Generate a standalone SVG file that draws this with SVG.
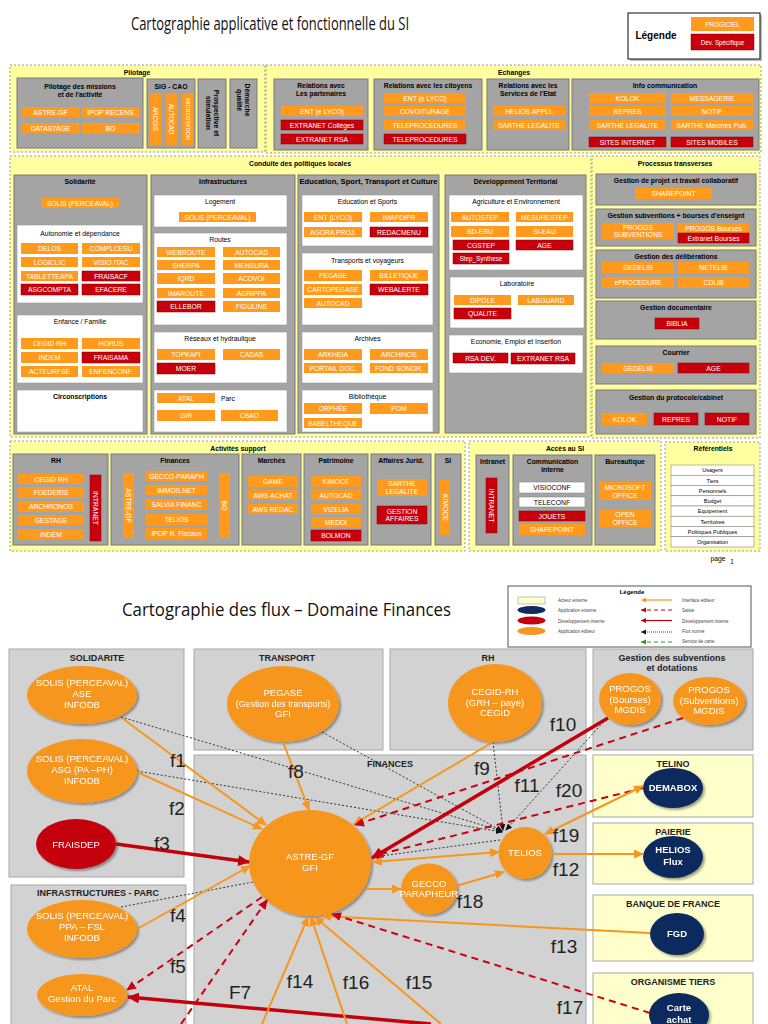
<svg xmlns="http://www.w3.org/2000/svg" width="768" height="1024" viewBox="0 0 768 1024">
<style>
text{font-family:"Liberation Sans",Arial,sans-serif;text-anchor:middle}
.b{font-weight:bold}
.wt{fill:#fff}
.s5{font-size:5.5px}.s6{font-size:6.3px}.s7{font-size:6.8px}.s9{font-size:9px}
.yz{fill:#ffffa0;stroke:#9a9a9a;stroke-width:1;stroke-dasharray:2,2}
.gy{fill:#a4a4a4;stroke:#7a7a7a;stroke-width:1}
.wh{fill:#fff;stroke:#9a9a9a;stroke-width:0.6}
.o{fill:#ff9a1c}
.r{fill:#c8000c;stroke:#8a0000;stroke-width:0.5}
.fg{fill:#d2d2d2;stroke:#a8a8a8;stroke-width:1}
.fy{fill:#ffffcc;stroke:#a8a8a8;stroke-width:1}
.eo{fill:#f7961e}
.er{fill:#c4000c}
.en{fill:#0f2a5e}
.et{fill:#fff;font-family:"Liberation Sans Narrow","Liberation Sans",Arial,sans-serif;font-size:9.5px}
.lo{stroke:#f7961e;stroke-width:2;fill:none}
.lr{stroke:#c4000c;stroke-width:3.5;fill:none}
.ld{stroke:#cc0010;stroke-width:2;fill:none;stroke-dasharray:7,5}
.lk{stroke:#333;stroke-width:1;fill:none;stroke-dasharray:2,2}
.fl{font-size:19px;fill:#222}
.ft{font-size:9px;font-weight:bold;fill:#222}
</style>
<defs>
<marker id="ao" markerUnits="userSpaceOnUse" markerWidth="10" markerHeight="9" refX="9" refY="4.5" orient="auto-start-reverse"><path d="M0,0 L10,4.5 L0,9 z" fill="#f7961e"/></marker>
<marker id="ar" markerUnits="userSpaceOnUse" markerWidth="12" markerHeight="11" refX="11" refY="5.5" orient="auto-start-reverse"><path d="M0,0 L12,5.5 L0,11 z" fill="#c4000c"/></marker>
<marker id="ad" markerUnits="userSpaceOnUse" markerWidth="10" markerHeight="9" refX="9" refY="4.5" orient="auto-start-reverse"><path d="M0,0 L10,4.5 L0,9 z" fill="#cc0010"/></marker>
<marker id="ak" markerUnits="userSpaceOnUse" markerWidth="7" markerHeight="6" refX="6" refY="3" orient="auto-start-reverse"><path d="M0,0 L7,3 L0,6 z" fill="#111"/></marker>
<filter id="sh" x="-20%" y="-20%" width="150%" height="150%"><feDropShadow dx="2" dy="2" stdDeviation="1.2" flood-color="#000" flood-opacity="0.35"/></filter>
</defs>
<rect width="768" height="1024" fill="#fff"/>

<!-- ===== PAGE 1 ===== -->
<text x="270" y="30" font-size="19" textLength="278" lengthAdjust="spacingAndGlyphs" style="font-family:'Open Sans','Liberation Sans',sans-serif" fill="#111">Cartographie applicative et fonctionnelle du SI</text>

<g id="legende1">
<rect x="630" y="15" width="132" height="46" fill="#bbb"/>
<rect x="628" y="13" width="132" height="46" fill="#fff" stroke="#333" stroke-width="1.2"/>
<text x="656" y="39" font-size="10" class="b">Légende</text>
<rect class="o" x="691" y="17" width="63" height="14"/><text class="s6 wt" x="722.5" y="26.5">PROGICIEL</text>
<rect class="r" x="691" y="34" width="63" height="16"/><text class="s6 wt" x="722.5" y="44.5">Dév. Spécifique</text>
</g>

<g id="pilotage">
<rect class="yz" x="10" y="65" width="255" height="87"/>
<text class="s7 b" x="137" y="75">Pilotage</text>
<rect class="gy" x="17" y="78" width="126" height="70"/>
<text class="s7 b" x="80" y="89">Pilotage des missions</text>
<text class="s7 b" x="80" y="96.5">et de l'activité</text>
<rect class="o" x="22" y="107" width="57" height="10"/><text class="s7 wt" x="50.5" y="114.5">ASTRE-GF</text>
<rect class="o" x="82" y="107" width="57" height="10"/><text class="s7 wt" x="110.5" y="114.5">IPOP RECENS</text>
<rect class="o" x="22" y="123" width="57" height="10"/><text class="s7 wt" x="50.5" y="130.5">DATASTAGE</text>
<rect class="o" x="82" y="123" width="57" height="10"/><text class="s7 wt" x="110.5" y="130.5">BO</text>
<rect class="gy" x="147" y="79" width="48" height="69"/>
<text class="s7 b" x="171" y="89">SIG - CAO</text>
<rect class="o" x="150" y="93" width="11" height="52"/><text class="s6 wt" transform="translate(155.5,119) rotate(90)" y="2.2">ARCGIS</text>
<rect class="o" x="166" y="93" width="11" height="52"/><text class="s6 wt" transform="translate(171.5,119) rotate(90)" y="2.2">AUTOCAD</text>
<rect class="o" x="182" y="93" width="11" height="52"/><text class="s5 wt" transform="translate(187.5,119) rotate(90)" y="2">MICROSTATION</text>
<rect class="gy" x="198" y="79" width="28" height="69"/>
<text class="s7 b" transform="translate(212,113) rotate(90)" y="-1.5">Prospective et</text>
<text class="s7 b" transform="translate(212,113) rotate(90)" y="6.5">simulation</text>
<rect class="gy" x="230" y="79" width="27" height="69"/>
<text class="s7 b" transform="translate(243.5,100) rotate(90)" y="-1.5">Démarche</text>
<text class="s7 b" transform="translate(243.5,100) rotate(90)" y="6.5">qualité</text>
</g>

<g id="echanges">
<rect class="yz" x="266" y="65" width="495" height="88"/>
<text class="s7 b" x="514" y="75">Echanges</text>
<rect class="gy" x="274" y="79" width="94" height="71"/>
<text class="s7 b" x="321" y="88">Relations avec</text>
<text class="s7 b" x="321" y="96">Les partenaires</text>
<rect class="o" x="281" y="106" width="82" height="10"/><text class="s7 wt" x="322" y="113.5">ENT (e LYCO)</text>
<rect class="r" x="281" y="120" width="82" height="10"/><text class="s7 wt" x="322" y="127.5">EXTRANET Collèges</text>
<rect class="r" x="281" y="134" width="82" height="10"/><text class="s7 wt" x="322" y="141.5">EXTRANET RSA</text>
<rect class="gy" x="374" y="79" width="108" height="71"/>
<text class="s7 b" x="428" y="88">Relations avec les citoyens</text>
<rect class="o" x="384" y="93" width="82" height="10"/><text class="s7 wt" x="425" y="100.5">ENT (e LYCO)</text>
<rect class="o" x="384" y="106" width="82" height="10"/><text class="s7 wt" x="425" y="113.5">COVOITURAGE</text>
<rect class="o" x="384" y="120" width="82" height="10"/><text class="s7 wt" x="425" y="127.5">TELEPROCEDURES</text>
<rect class="r" x="384" y="134" width="82" height="10"/><text class="s7 wt" x="425" y="141.5">TELEPROCEDURES</text>
<rect class="gy" x="487" y="79" width="82" height="71"/>
<text class="s7 b" x="528" y="88">Relations avec les</text>
<text class="s7 b" x="528" y="96">Services de l'Etat</text>
<rect class="o" x="493" y="106" width="72" height="10"/><text class="s7 wt" x="529" y="113.5">HELIOS APPLI.</text>
<rect class="o" x="493" y="120" width="72" height="10"/><text class="s7 wt" x="529" y="127.5">SARTHE LEGALITE</text>
<rect class="gy" x="572" y="79" width="187" height="71"/>
<text class="s7 b" x="665" y="88">Info communication</text>
<rect class="o" x="589" y="93" width="77" height="10"/><text class="s7 wt" x="627.5" y="100.5">KOLOK</text>
<rect class="o" x="671" y="93" width="82" height="10"/><text class="s7 wt" x="712" y="100.5">MESSAGERIE</text>
<rect class="o" x="589" y="106" width="77" height="10"/><text class="s7 wt" x="627.5" y="113.5">REPRES</text>
<rect class="o" x="671" y="106" width="82" height="10"/><text class="s7 wt" x="712" y="113.5">NOTIF</text>
<rect class="o" x="589" y="120" width="77" height="10"/><text class="s7 wt" x="627.5" y="127.5">SARTHE LEGALITE</text>
<rect class="o" x="671" y="120" width="82" height="10"/><text class="s7 wt" x="712" y="127.5">SARTHE Marchés Pub.</text>
<rect class="r" x="589" y="137" width="77" height="10"/><text class="s7 wt" x="627.5" y="144.5">SITES INTERNET</text>
<rect class="r" x="671" y="137" width="82" height="10"/><text class="s7 wt" x="712" y="144.5">SITES MOBILES</text>
</g>

<g id="conduite">
<rect class="yz" x="10" y="156" width="581" height="281"/>
<text class="s7 b" x="300" y="166">Conduite des politiques locales</text>
</g>

<g id="solidarite">
<rect class="gy" x="14" y="175" width="133" height="259"/>
<text class="s7 b" x="80" y="184">Solidarité</text>
<rect class="o" x="41" y="198" width="78" height="10"/><text class="s7 wt" x="80" y="205.5">SOLIS (PERCEAVAL)</text>
<rect class="wh" x="17" y="225" width="126" height="78"/>
<text class="s7" x="80" y="236">Autonomie et dépendance</text>
<rect class="o" x="21" y="243" width="57" height="11"/><text class="s7 wt" x="49.5" y="251">DELOS</text>
<rect class="o" x="82" y="243" width="58" height="11"/><text class="s7 wt" x="111" y="251">COMPLCESU</text>
<rect class="o" x="21" y="257" width="57" height="10"/><text class="s7 wt" x="49.5" y="264.5">LOGICLIC</text>
<rect class="o" x="82" y="257" width="58" height="10"/><text class="s7 wt" x="111" y="264.5">VISIO ITAC</text>
<rect class="o" x="21" y="271" width="57" height="10"/><text class="s7 wt" x="49.5" y="278.5">TABLETTEAPA</text>
<rect class="r" x="82" y="271" width="58" height="10"/><text class="s7 wt" x="111" y="278.5">FRAISACF</text>
<rect class="r" x="21" y="284" width="57" height="11"/><text class="s7 wt" x="49.5" y="292">ASGCOMPTA</text>
<rect class="r" x="82" y="284" width="58" height="11"/><text class="s7 wt" x="111" y="292">EFACERE</text>
<rect class="wh" x="17" y="315" width="126" height="68"/>
<text class="s7" x="80" y="324">Enfance / Famille</text>
<rect class="o" x="21" y="338" width="57" height="11"/><text class="s7 wt" x="49.5" y="346">CEGID RH</text>
<rect class="o" x="82" y="338" width="58" height="11"/><text class="s7 wt" x="111" y="346">HORUS</text>
<rect class="o" x="21" y="352" width="57" height="11"/><text class="s7 wt" x="49.5" y="360">INDEM</text>
<rect class="r" x="82" y="352" width="58" height="11"/><text class="s7 wt" x="111" y="360">FRAISAMA</text>
<rect class="o" x="21" y="366" width="57" height="11"/><text class="s7 wt" x="49.5" y="374">ACTEURFSE</text>
<rect class="o" x="82" y="366" width="58" height="11"/><text class="s7 wt" x="111" y="374">ENFENCONF.</text>
<rect class="wh" x="17" y="390" width="126" height="42"/>
<text class="s7 b" x="80" y="399">Circonscriptions</text>
</g>

<g id="infrastructures">
<rect class="gy" x="151" y="175" width="144" height="259"/>
<text class="s7 b" x="223" y="184">Infrastructures</text>
<rect class="wh" x="154" y="195" width="133" height="32"/>
<text class="s7" x="220" y="204">Logement</text>
<rect class="o" x="179" y="212" width="77" height="10"/><text class="s7 wt" x="217.5" y="219.5">SOLIS (PERCEAVAL)</text>
<rect class="wh" x="154" y="233" width="133" height="92"/>
<text class="s7" x="220" y="242">Routes</text>
<rect class="o" x="157" y="247" width="58" height="10"/><text class="s7 wt" x="186" y="254.5">WEBROUTE</text>
<rect class="o" x="223" y="247" width="57" height="10"/><text class="s7 wt" x="251.5" y="254.5">AUTOCAD</text>
<rect class="o" x="157" y="260" width="58" height="10"/><text class="s7 wt" x="186" y="267.5">SHERPA</text>
<rect class="o" x="223" y="260" width="57" height="10"/><text class="s7 wt" x="251.5" y="267.5">MENSURA</text>
<rect class="o" x="157" y="273" width="58" height="11"/><text class="s7 wt" x="186" y="281">IQRD</text>
<rect class="o" x="223" y="273" width="57" height="11"/><text class="s7 wt" x="251.5" y="281">ACOVOI</text>
<rect class="o" x="157" y="288" width="58" height="10"/><text class="s7 wt" x="186" y="295.5">IMAROUTE</text>
<rect class="o" x="223" y="288" width="57" height="10"/><text class="s7 wt" x="251.5" y="295.5">AGRIPPA</text>
<rect class="r" x="157" y="301" width="58" height="11"/><text class="s7 wt" x="186" y="309">ELLEBOR</text>
<rect class="o" x="223" y="301" width="57" height="11"/><text class="s7 wt" x="251.5" y="309">FIGULINE</text>
<rect class="wh" x="154" y="332" width="133" height="51"/>
<text class="s7" x="220" y="341">Réseaux et hydraulique</text>
<rect class="o" x="157" y="349" width="58" height="11"/><text class="s7 wt" x="186" y="357">TOPKAPI</text>
<rect class="o" x="223" y="349" width="57" height="11"/><text class="s7 wt" x="251.5" y="357">CADAS</text>
<rect class="r" x="157" y="363" width="58" height="11"/><text class="s7 wt" x="186" y="371">MOER</text>
<rect class="wh" x="154" y="390" width="133" height="42"/>
<rect class="o" x="157" y="393" width="58" height="10"/><text class="s7 wt" x="186" y="400.5">ATAL</text>
<text class="s7" x="221" y="400.5" style="text-anchor:start">Parc</text>
<rect class="o" x="157" y="410" width="58" height="11"/><text class="s7 wt" x="186" y="418">GIR</text>
<rect class="o" x="221" y="410" width="57" height="11"/><text class="s7 wt" x="249.5" y="418">CBAO</text>
</g>

<g id="education">
<rect class="gy" x="298" y="175" width="141" height="258"/>
<text class="s7 b" x="368.5" y="184" textLength="138" lengthAdjust="spacingAndGlyphs">Education, Sport, Transport et Culture</text>
<rect class="wh" x="302" y="195" width="131" height="51"/>
<text class="s7" x="367.5" y="204">Education et Sports</text>
<rect class="o" x="304" y="212" width="58" height="10"/><text class="s7 wt" x="333" y="219.5">ENT (LYCO)</text>
<rect class="o" x="370" y="212" width="58" height="10"/><text class="s7 wt" x="399" y="219.5">IMAPDIPR</text>
<rect class="o" x="304" y="227" width="58" height="10"/><text class="s7 wt" x="333" y="234.5">AGORA PROJ.</text>
<rect class="r" x="370" y="227" width="58" height="10"/><text class="s7 wt" x="399" y="234.5">REDACMENU</text>
<rect class="wh" x="302" y="253" width="131" height="72"/>
<text class="s7" x="367.5" y="263">Transports et voyageurs</text>
<rect class="o" x="304" y="270" width="58" height="11"/><text class="s7 wt" x="333" y="278">PEGASE</text>
<rect class="o" x="370" y="270" width="58" height="11"/><text class="s7 wt" x="399" y="278">BILLETIQUE</text>
<rect class="o" x="304" y="284" width="58" height="11"/><text class="s7 wt" x="333" y="292">CARTOPEGASE</text>
<rect class="r" x="370" y="284" width="58" height="11"/><text class="s7 wt" x="399" y="292">WEBALERTE</text>
<rect class="o" x="304" y="298" width="58" height="10"/><text class="s7 wt" x="333" y="305.5">AUTOCAD</text>
<rect class="wh" x="302" y="332" width="131" height="51"/>
<text class="s7" x="367.5" y="341">Archives</text>
<rect class="o" x="304" y="349" width="58" height="11"/><text class="s7 wt" x="333" y="357">ARKHEIA</text>
<rect class="o" x="370" y="349" width="58" height="11"/><text class="s7 wt" x="399" y="357">ARCHINOE</text>
<rect class="o" x="304" y="363" width="58" height="10"/><text class="s7 wt" x="333" y="370.5">PORTAIL DOC.</text>
<rect class="o" x="370" y="363" width="58" height="10"/><text class="s7 wt" x="399" y="370.5">FOND SONOR.</text>
<rect class="wh" x="302" y="390" width="131" height="42"/>
<text class="s7" x="367.5" y="399">Bibliothèque</text>
<rect class="o" x="304" y="403" width="58" height="11"/><text class="s7 wt" x="333" y="411">ORPHÉE</text>
<rect class="o" x="370" y="403" width="58" height="11"/><text class="s7 wt" x="399" y="411">POM</text>
<rect class="o" x="304" y="418" width="58" height="10"/><text class="s7 wt" x="333" y="425.5">BABELTHEQUE</text>
</g>

<g id="developpement">
<rect class="gy" x="445" y="175" width="141" height="258"/>
<text class="s7 b" x="515.5" y="184">Développement Territorial</text>
<rect class="wh" x="449" y="195" width="134" height="75"/>
<text class="s7" x="516" y="204">Agriculture et Environnement</text>
<rect class="o" x="451" y="212" width="58" height="10"/><text class="s7 wt" x="480" y="219.5">AUTOSTEP</text>
<rect class="o" x="516" y="212" width="57" height="10"/><text class="s7 wt" x="544.5" y="219.5">MESURESTEP</text>
<rect class="o" x="451" y="226" width="58" height="11"/><text class="s7 wt" x="480" y="234">BD-ERU</text>
<rect class="o" x="516" y="226" width="57" height="11"/><text class="s7 wt" x="544.5" y="234">SI-EAU</text>
<rect class="r" x="453" y="240" width="56" height="10"/><text class="s7 wt" x="481" y="247.5">CGSTEP</text>
<rect class="r" x="516" y="240" width="57" height="10"/><text class="s7 wt" x="544.5" y="247.5">AGE</text>
<rect class="r" x="453" y="253" width="56" height="11"/><text class="s6 wt" x="481" y="261">Step_Synthese</text>
<rect class="wh" x="450" y="277" width="134" height="51"/>
<text class="s7" x="517" y="286">Laboratoire</text>
<rect class="o" x="454" y="295" width="57" height="10"/><text class="s7 wt" x="482.5" y="302.5">DIPOLE</text>
<rect class="o" x="518" y="295" width="56" height="10"/><text class="s7 wt" x="546" y="302.5">LABGUARD</text>
<rect class="r" x="454" y="308" width="57" height="11"/><text class="s7 wt" x="482.5" y="316">QUALITE</text>
<rect class="wh" x="449" y="335" width="134" height="38"/>
<text class="s7" x="516" y="344">Economie, Emploi et Insertion</text>
<rect class="r" x="453" y="353" width="55" height="10"/><text class="s7 wt" x="480.5" y="360.5">RSA DEV.</text>
<rect class="r" x="511" y="353" width="64" height="11"/><text class="s7 wt" x="543" y="361">EXTRANET RSA</text>
</g>

<g id="processus">
<rect class="yz" x="592" y="156" width="168" height="282"/>
<text class="s7 b" x="675" y="166">Processus transverses</text>
<rect class="gy" x="596" y="174" width="160" height="31"/>
<text class="s7 b" x="676" y="183">Gestion de projet et travail collaboratif</text>
<rect class="o" x="635" y="188" width="77" height="11"/><text class="s7 wt" x="673.5" y="196">SHAREPOINT</text>
<rect class="gy" x="596" y="209" width="160" height="37"/>
<text class="s7 b" x="676" y="217.5">Gestion subventions + bourses d'enseignt</text>
<rect class="o" x="602" y="223" width="72" height="16"/><text class="s7 wt" x="638" y="229.5">PROGOS</text><text class="s7 wt" x="638" y="237">SUBVENTIONS</text>
<rect class="o" x="678" y="223" width="71" height="10"/><text class="s7 wt" x="713.5" y="230.5">PROGOS Bourses</text>
<rect class="r" x="678" y="233" width="71" height="10"/><text class="s7 wt" x="713.5" y="240.5">Extranet Bourses</text>
<rect class="gy" x="596" y="250" width="160" height="48"/>
<text class="s7 b" x="676" y="258.5">Gestion des délibérations</text>
<rect class="o" x="602" y="262" width="72" height="11"/><text class="s7 wt" x="638" y="270">GEDELIB</text>
<rect class="o" x="678" y="262" width="71" height="11"/><text class="s7 wt" x="713.5" y="270">NETELIB</text>
<rect class="o" x="602" y="277" width="72" height="11"/><text class="s7 wt" x="638" y="285">ePROCEDURE</text>
<rect class="o" x="678" y="277" width="71" height="11"/><text class="s7 wt" x="713.5" y="285">CDLIB</text>
<rect class="gy" x="596" y="301" width="160" height="38"/>
<text class="s7 b" x="676" y="310">Gestion documentaire</text>
<rect class="r" x="655" y="318" width="44" height="11"/><text class="s7 wt" x="677" y="326">BIBLIA</text>
<rect class="gy" x="596" y="346" width="160" height="38"/>
<text class="s7 b" x="676" y="355">Courrier</text>
<rect class="o" x="602" y="363" width="72" height="10"/><text class="s7 wt" x="638" y="370.5">GEDELIB</text>
<rect class="r" x="678" y="363" width="71" height="10"/><text class="s7 wt" x="713.5" y="370.5">AGE</text>
<rect class="gy" x="596" y="390" width="160" height="44"/>
<text class="s7 b" x="676" y="400">Gestion du protocole/cabinet</text>
<rect class="o" x="602" y="413" width="45" height="12"/><text class="s7 wt" x="624.5" y="421.5">KOLOK</text>
<rect class="r" x="654" y="413" width="44" height="12"/><text class="s7 wt" x="676" y="421.5">REPRES</text>
<rect class="r" x="705" y="413" width="44" height="12"/><text class="s7 wt" x="727" y="421.5">NOTIF</text>
</g>

<g id="activites-support">
<rect class="yz" x="10" y="441" width="455" height="110"/>
<text class="s7 b" x="238" y="450.5">Activités support</text>
<rect class="gy" x="13" y="454" width="95" height="91"/>
<text class="s7 b" x="56" y="463">RH</text>
<rect class="o" x="18" y="474" width="66" height="10"/><text class="s7 wt" x="51" y="481.5">CEGID RH</text>
<rect class="o" x="18" y="487" width="66" height="11"/><text class="s7 wt" x="51" y="495">FOEDERIS</text>
<rect class="o" x="18" y="501" width="66" height="11"/><text class="s7 wt" x="51" y="509">ARCHRONOS</text>
<rect class="o" x="18" y="515" width="66" height="10"/><text class="s7 wt" x="51" y="522.5">GESTAGE</text>
<rect class="o" x="18" y="529" width="66" height="10"/><text class="s7 wt" x="51" y="536.5">INDEM</text>
<rect class="r" x="90" y="475" width="11" height="66"/><text class="s7 wt" transform="translate(95.5,508) rotate(90)" y="2.4">INTRANET</text>
<rect class="gy" x="111" y="454" width="128" height="91"/>
<text class="s7 b" x="175" y="463">Finances</text>
<rect class="o" x="123" y="473" width="11" height="65"/><text class="s7 wt" transform="translate(128.5,505.5) rotate(90)" y="2.4">ASTRE-GF</text>
<rect class="o" x="146" y="471" width="61" height="10"/><text class="s7 wt" x="176.5" y="478.5">GECCO-PARAPH</text>
<rect class="o" x="146" y="485" width="61" height="10"/><text class="s7 wt" x="176.5" y="492.5">IMMOS.NET</text>
<rect class="o" x="146" y="499" width="61" height="11"/><text class="s7 wt" x="176.5" y="507">SALVIA FINANC</text>
<rect class="o" x="146" y="514" width="61" height="11"/><text class="s7 wt" x="176.5" y="522">TELIOS</text>
<rect class="o" x="146" y="528" width="61" height="11"/><text class="s7 wt" x="176.5" y="536">IPOP R. Fiscaux</text>
<rect class="o" x="219" y="473" width="11" height="65"/><text class="s7 wt" transform="translate(224.5,505.5) rotate(90)" y="2.4">BO</text>
<rect class="gy" x="242" y="454" width="59" height="91"/>
<text class="s7 b" x="271.5" y="463">Marchés</text>
<rect class="o" x="248" y="476" width="50" height="11"/><text class="s7 wt" x="273" y="484">GAME</text>
<rect class="o" x="248" y="490" width="50" height="10"/><text class="s7 wt" x="273" y="497.5">AWS ACHAT</text>
<rect class="o" x="248" y="504" width="50" height="10"/><text class="s7 wt" x="273" y="511.5">AWS REDAC</text>
<rect class="gy" x="304" y="454" width="64" height="91"/>
<text class="s7 b" x="336" y="463">Patrimoine</text>
<rect class="o" x="311" y="476" width="50" height="11"/><text class="s7 wt" x="336" y="484">KIMOCE</text>
<rect class="o" x="311" y="490" width="50" height="10"/><text class="s7 wt" x="336" y="497.5">AUTOCAD</text>
<rect class="o" x="311" y="504" width="50" height="10"/><text class="s7 wt" x="336" y="511.5">VIZELIA</text>
<rect class="o" x="311" y="517" width="50" height="10"/><text class="s7 wt" x="336" y="524.5">MEDDI</text>
<rect class="r" x="311" y="530" width="50" height="11"/><text class="s7 wt" x="336" y="538">BOLMON</text>
<rect class="gy" x="371" y="454" width="60" height="91"/>
<text class="s7 b" x="401" y="463">Affaires Jurid.</text>
<rect class="o" x="377" y="479" width="50" height="17"/><text class="s7 wt" x="402" y="486">SARTHE</text><text class="s7 wt" x="402" y="493.5">LEGALITE</text>
<rect class="r" x="377" y="506" width="50" height="18"/><text class="s7 wt" x="402" y="513.5">GESTION</text><text class="s7 wt" x="402" y="521">AFFAIRES</text>
<rect class="gy" x="435" y="454" width="26" height="91"/>
<text class="s7 b" x="448" y="463">SI</text>
<rect class="o" x="440" y="480" width="10" height="55"/><text class="s7 wt" transform="translate(445,507.5) rotate(90)" y="2.4">KIMOCE</text>
</g>

<g id="acces-si">
<rect class="yz" x="469" y="441" width="192" height="110"/>
<text class="s7 b" x="565" y="451">Accès au SI</text>
<rect class="gy" x="476" y="455" width="33" height="90"/>
<text class="s7 b" x="492.5" y="464">Intranet</text>
<rect class="r" x="486" y="478" width="11" height="55"/><text class="s7 wt" transform="translate(491.5,505.5) rotate(90)" y="2.4">INTRANET</text>
<rect class="gy" x="513" y="455" width="79" height="90"/>
<text class="s7 b" x="552.5" y="464">Communication</text>
<text class="s7 b" x="552.5" y="472">interne</text>
<rect x="519" y="482" width="66" height="11" fill="#fff" stroke="#888" stroke-width="0.6"/><text class="s7" x="552" y="490">VISIOCONF</text>
<rect x="519" y="497" width="66" height="10" fill="#fff" stroke="#888" stroke-width="0.6"/><text class="s7" x="552" y="504.5">TELECONF</text>
<rect class="r" x="519" y="511" width="66" height="10"/><text class="s7 wt" x="552" y="518.5">JOUETS</text>
<rect class="o" x="519" y="524" width="66" height="11"/><text class="s7 wt" x="552" y="532">SHAREPOINT</text>
<rect class="gy" x="595" y="455" width="60" height="90"/>
<text class="s7 b" x="625" y="464">Bureautique</text>
<rect class="o" x="599" y="482" width="52" height="18"/><text class="s7 wt" x="625" y="489.5">MICROSOFT</text><text class="s7 wt" x="625" y="497.5">OFFICE</text>
<rect class="o" x="599" y="510" width="52" height="17"/><text class="s7 wt" x="625" y="517">OPEN</text><text class="s7 wt" x="625" y="524.5">OFFICE</text>
</g>

<g id="referentiels">
<rect class="yz" x="665" y="442" width="95" height="109"/>
<text class="s7 b" x="713" y="451">Référentiels</text>
<g fill="#fff" stroke="#888" stroke-width="0.6">
<rect x="671" y="465" width="83" height="10.25"/><rect x="671" y="475.25" width="83" height="10.25"/>
<rect x="671" y="485.5" width="83" height="10.25"/><rect x="671" y="495.75" width="83" height="10.25"/>
<rect x="671" y="506" width="83" height="10.25"/><rect x="671" y="516.25" width="83" height="10.25"/>
<rect x="671" y="526.5" width="83" height="10.25"/><rect x="671" y="536.75" width="83" height="10.25"/>
</g>
<text class="s5" x="712.5" y="472.3">Usagers</text>
<text class="s5" x="712.5" y="482.5">Tiers</text>
<text class="s5" x="712.5" y="492.8">Personnels</text>
<text class="s5" x="712.5" y="503">Budget</text>
<text class="s5" x="712.5" y="513.3">Equipement</text>
<text class="s5" x="712.5" y="523.5">Territoires</text>
<text class="s5" x="712.5" y="533.8">Politiques Publiques</text>
<text class="s5" x="712.5" y="544">Organisation</text>
</g>
<text class="s7" x="718" y="561">page</text>
<text class="s6" x="732" y="563.5">1</text>

<!-- ===== PAGE 2 ===== -->
<text x="122" y="616" font-size="19" textLength="329" lengthAdjust="spacingAndGlyphs" style="text-anchor:start;font-family:'Open Sans','Liberation Sans',sans-serif" fill="#111">Cartographie des flux – Domaine Finances</text>

<g id="legende2">
<rect x="508" y="586" width="243" height="61" fill="#fff" stroke="#555" stroke-width="1"/>
<text x="632" y="593.5" font-size="6" class="b">Légende</text>
<rect x="518" y="597" width="27" height="7" fill="#ffffcc" stroke="#999" stroke-width="0.6"/>
<ellipse cx="531.5" cy="610" rx="14" ry="4" class="en"/>
<ellipse cx="531.5" cy="620.5" rx="14" ry="4" class="er"/>
<ellipse cx="531.5" cy="631" rx="14" ry="4" class="eo"/>
<g font-size="4.5" fill="#444">
<text x="558" y="602" style="text-anchor:start">Acteur externe</text>
<text x="558" y="612" style="text-anchor:start">Application externe</text>
<text x="558" y="622.5" style="text-anchor:start">Développement interne</text>
<text x="558" y="633" style="text-anchor:start">Application éditeur</text>
<text x="682" y="602" style="text-anchor:start">Interface éditeur</text>
<text x="682" y="612" style="text-anchor:start">Saisie</text>
<text x="682" y="622.5" style="text-anchor:start">Développement interne</text>
<text x="682" y="633" style="text-anchor:start">Flux normé</text>
<text x="682" y="643" style="text-anchor:start">Service de carte</text>
</g>
<line x1="672" y1="600" x2="644" y2="600" stroke="#f7961e" stroke-width="1.2"/>
<path d="M641,600 l5,-2.5 v5 z" fill="#f7961e"/>
<line x1="672" y1="610" x2="641" y2="610" stroke="#cc0010" stroke-width="1.2" stroke-dasharray="4,3"/>
<path d="M641,610 l5,-2.5 v5 z" fill="#cc0010"/>
<line x1="672" y1="620.5" x2="641" y2="620.5" stroke="#c4000c" stroke-width="1.2"/>
<path d="M641,620.5 l5,-2.5 v5 z" fill="#c4000c"/>
<line x1="672" y1="632" x2="641" y2="632" stroke="#111" stroke-width="0.8" stroke-dasharray="1,1"/>
<path d="M641,632 l5,-2.5 v5 z" fill="#111"/>
<line x1="672" y1="642" x2="641" y2="642" stroke="#2a9a2a" stroke-width="1.2" stroke-dasharray="4,3"/>
<path d="M641,642 l5,-2.5 v5 z" fill="#2a9a2a"/>
</g>

<g id="zone-solidarite"><rect class="fg" x="9" y="649" width="175" height="228"/><text class="ft" x="97" y="661">SOLIDARITE</text></g>
<g id="zone-transport"><rect class="fg" x="194" y="649" width="189" height="101"/><text class="ft" x="287" y="661">TRANSPORT</text></g>
<g id="zone-rh"><rect class="fg" x="390" y="649" width="196" height="101"/><text class="ft" x="488" y="661">RH</text></g>
<g id="zone-subventions"><rect class="fg" x="593" y="649" width="160" height="101"/><text class="ft" x="672" y="661">Gestion des subventions</text><text class="ft" x="672" y="671">et dotations</text></g>
<g id="zone-finances"><rect class="fg" x="194" y="755" width="392" height="275"/><text class="ft" x="390" y="767">FINANCES</text></g>
<g id="zone-infra"><rect class="fg" x="11" y="885" width="175" height="145"/><text class="ft" x="98" y="896">INFRASTRUCTURES - PARC</text></g>
<g id="zone-telino"><rect class="fy" x="593" y="755" width="160" height="62"/><text class="ft" x="673" y="767">TELINO</text></g>
<g id="zone-paierie"><rect class="fy" x="593" y="823" width="160" height="61"/><text class="ft" x="673" y="835">PAIERIE</text></g>
<g id="zone-bdf"><rect class="fy" x="593" y="895" width="160" height="66"/><text class="ft" x="673" y="907">BANQUE DE FRANCE</text></g>
<g id="zone-tiers"><rect class="fy" x="593" y="973" width="160" height="60"/><text class="ft" x="673" y="985">ORGANISME TIERS</text></g>

<g id="n-solis-ase" filter="url(#sh)"><ellipse class="eo" cx="82" cy="695" rx="55" ry="29"/><text class="et" x="82" y="686">SOLIS (PERCEAVAL)</text><text class="et" x="82" y="697">ASE</text><text class="et" x="82" y="707.5">INFODB</text></g>
<g id="n-solis-asg" filter="url(#sh)"><ellipse class="eo" cx="82" cy="771" rx="55" ry="32"/><text class="et" x="82" y="762">SOLIS (PERCEAVAL)</text><text class="et" x="82" y="773">ASG (PA –PH)</text><text class="et" x="82" y="783.5">INFODB</text></g>
<g id="n-fraisdep" filter="url(#sh)"><ellipse class="er" cx="76" cy="844" rx="40" ry="25"/><text class="et" x="76" y="847.5">FRAISDEP</text></g>
<g id="n-solis-ppa" filter="url(#sh)"><ellipse class="eo" cx="82" cy="929" rx="55" ry="29"/><text class="et" x="82" y="919">SOLIS (PERCEAVAL)</text><text class="et" x="82" y="930">PPA – FSL</text><text class="et" x="82" y="941">INFODB</text></g>
<g id="n-atal" filter="url(#sh)"><ellipse class="eo" cx="82" cy="995" rx="45" ry="21"/><text class="et" x="82" y="991">ATAL</text><text class="et" x="82" y="1001.5">Gestion du Parc</text></g>
<g id="n-pegase" filter="url(#sh)"><ellipse class="eo" cx="283" cy="704" rx="56" ry="38"/><text class="et" x="283" y="695.5">PEGASE</text><text class="et" x="283" y="707" style="font-size:8.8px">(Gestion des transports)</text><text class="et" x="283" y="716.5">GFI</text></g>
<g id="n-cegid" filter="url(#sh)"><ellipse class="eo" cx="495" cy="703" rx="47" ry="39"/><text class="et" x="495" y="695">CEGID-RH</text><text class="et" x="495" y="706">(GRH – paye)</text><text class="et" x="495" y="716">CEGID</text></g>
<g id="n-progos-b" filter="url(#sh)"><ellipse class="eo" cx="630" cy="699" rx="31" ry="26"/><text class="et" x="630" y="692">PROGOS</text><text class="et" x="630" y="703">(Bourses)</text><text class="et" x="630" y="713">MGDIS</text></g>
<g id="n-progos-s" filter="url(#sh)"><ellipse class="eo" cx="709" cy="701" rx="36" ry="24"/><text class="et" x="709" y="693">PROGOS</text><text class="et" x="709" y="704">(Subventions)</text><text class="et" x="709" y="714">MGDIS</text></g>
<g id="n-astre" filter="url(#sh)"><ellipse class="eo" cx="310" cy="863" rx="61" ry="53"/><text class="et" x="310" y="860">ASTRE-GF</text><text class="et" x="310" y="870.5">GFI</text></g>
<g id="n-telios" filter="url(#sh)"><ellipse class="eo" cx="525" cy="853" rx="26.5" ry="26"/><text class="et" x="525" y="856">TELIOS</text></g>
<g id="n-gecco" filter="url(#sh)"><ellipse class="eo" cx="429" cy="889" rx="28" ry="25.5"/><text class="et" x="429" y="887">GECCO</text><text class="et" x="429" y="896.5">PARAPHEUR</text></g>
<g id="n-demabox" filter="url(#sh)"><ellipse class="en" cx="673" cy="788" rx="30" ry="20"/><text class="et b" x="673" y="791">DEMABOX</text></g>
<g id="n-helios" filter="url(#sh)"><ellipse class="en" cx="673" cy="857" rx="30" ry="21"/><text class="et b" x="673" y="853">HELIOS</text><text class="et b" x="673" y="865">Flux</text></g>
<g id="n-fgd" filter="url(#sh)"><ellipse class="en" cx="677" cy="934" rx="27" ry="21"/><text class="et b" x="677" y="937">FGD</text></g>
<g id="n-carte" filter="url(#sh)"><ellipse class="en" cx="679" cy="1015" rx="30" ry="22"/><text class="et b" x="679" y="1011">Carte</text><text class="et b" x="679" y="1023">achat</text></g>

<g id="connecteurs">
<line class="lk" x1="121" y1="717" x2="502" y2="831" marker-end="url(#ak)"/>
<line class="lk" x1="137" y1="771" x2="502" y2="832" marker-end="url(#ak)"/>
<line class="lk" x1="322" y1="732" x2="502" y2="831" marker-end="url(#ak)"/>
<line class="lk" x1="493" y1="742" x2="503" y2="830" marker-end="url(#ak)"/>
<line class="lk" x1="606" y1="719" x2="506" y2="830" marker-end="url(#ak)"/>
<line class="lk" x1="500" y1="840" x2="373" y2="857" marker-end="url(#ak)"/>
<line class="lk" x1="121" y1="907" x2="253" y2="882"/>
<line class="lo" x1="122" y1="718" x2="266" y2="825" marker-end="url(#ao)"/>
<line class="lo" x1="137" y1="772" x2="262" y2="829" marker-end="url(#ao)"/>
<line class="lr" x1="116" y1="844" x2="249" y2="862" marker-end="url(#ar)"/>
<line class="lo" x1="137" y1="929" x2="250" y2="866" marker-end="url(#ao)"/>
<line class="lo" x1="283" y1="742" x2="309" y2="810" marker-end="url(#ao)"/>
<line class="lo" x1="493" y1="742" x2="354" y2="824" marker-end="url(#ao)"/>
<line class="lr" x1="608" y1="718" x2="372" y2="858" marker-end="url(#ar)"/>
<line class="ld" x1="683" y1="718" x2="355" y2="825" marker-end="url(#ad)"/>
<line class="ld" x1="643" y1="788" x2="373" y2="856" marker-end="url(#ad)"/>
<line class="lo" x1="545" y1="834" x2="643" y2="786" marker-start="url(#ao)" marker-end="url(#ao)"/>
<line class="lo" x1="499" y1="852" x2="373" y2="862" marker-start="url(#ao)" marker-end="url(#ao)"/>
<line class="lo" x1="551" y1="854" x2="643" y2="854" marker-end="url(#ao)"/>
<line class="lo" x1="365" y1="889" x2="401" y2="889" marker-end="url(#ao)"/>
<line class="lo" x1="456" y1="886" x2="504" y2="872" marker-end="url(#ao)"/>
<line class="lo" x1="650" y1="933" x2="322" y2="916" marker-end="url(#ao)"/>
<line class="ld" x1="650" y1="1013" x2="332" y2="914" marker-end="url(#ad)"/>
<line class="ld" x1="262" y1="897" x2="127" y2="990" marker-end="url(#ad)"/>
<line class="ld" x1="181" y1="1024" x2="267" y2="900" marker-end="url(#ad)"/>
<line class="lr" x1="431" y1="1024" x2="128" y2="997" marker-end="url(#ar)"/>
<line class="lo" x1="262" y1="1024" x2="308" y2="917" marker-end="url(#ao)"/>
<line class="lo" x1="347" y1="1024" x2="311" y2="917" marker-end="url(#ao)"/>
<line class="lo" x1="441" y1="1024" x2="315" y2="917" marker-end="url(#ao)"/>
</g>

<g id="labels-flux">
<text class="fl" x="178" y="767">f1</text>
<text class="fl" x="296" y="778">f8</text>
<text class="fl" x="482" y="775">f9</text>
<text class="fl" x="563" y="731">f10</text>
<text class="fl" x="527" y="792">f11</text>
<text class="fl" x="569" y="797">f20</text>
<text class="fl" x="177" y="815">f2</text>
<text class="fl" x="162" y="850">f3</text>
<text class="fl" x="566" y="842">f19</text>
<text class="fl" x="566" y="876">f12</text>
<text class="fl" x="470" y="908">f18</text>
<text class="fl" x="178" y="922">f4</text>
<text class="fl" x="564" y="953">f13</text>
<text class="fl" x="178" y="973">f5</text>
<text class="fl" x="240" y="999">F7</text>
<text class="fl" x="300" y="988">f14</text>
<text class="fl" x="356" y="989">f16</text>
<text class="fl" x="419" y="989">f15</text>
<text class="fl" x="570" y="1014">f17</text>
</g>
</svg>
